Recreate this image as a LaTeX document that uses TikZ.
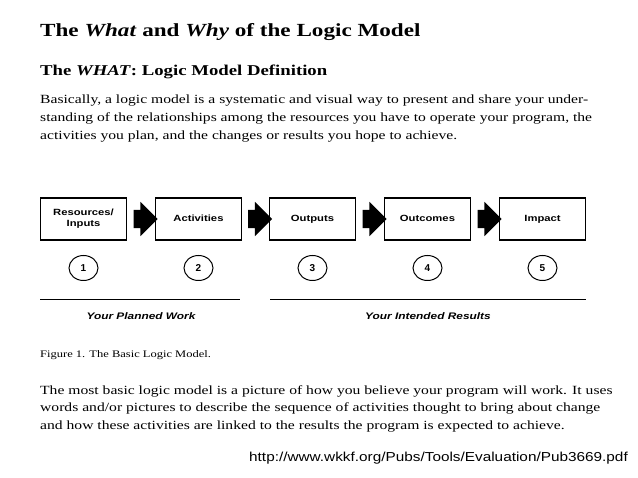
\documentclass[tikz,border=0pt]{standalone}
\usepackage{fontspec}
\usetikzlibrary{shapes.arrows,shapes.geometric}
\setmainfont{Liberation Serif}[FakeStretch=1.25]
\newfontfamily\lsans{Liberation Sans}
\newfontfamily\wsans{Liberation Sans}[FakeStretch=1.25]
\newfontfamily\usans{Liberation Sans}[FakeStretch=1.18]
\begin{document}
\begin{tikzpicture}[x=1pt,y=-1pt,
  stepbox/.style={draw,line width=1.3pt,minimum width=86pt,minimum height=42pt,font=\wsans\bfseries\fontsize{9}{11}\selectfont,align=center},
  one/.style={text height=7pt,text depth=2pt},
  num/.style={draw,ellipse,line width=1pt,minimum width=29pt,minimum height=25pt,inner sep=0pt,font=\lsans\bfseries\fontsize{10}{10}\selectfont},
  bigarrow/.style={fill=black,single arrow,single arrow head extend=8pt,minimum height=24pt,inner xsep=0pt,inner ysep=9pt,text height=0pt,text depth=0pt},
  para/.style={anchor=north west,align=left,inner sep=0pt,font=\fontsize{12.5}{17.8}\selectfont},
  grp/.style={font=\wsans\bfseries\itshape\fontsize{9.5}{10}\selectfont}]
\useasboundingbox (0,0) rectangle (638,478);
\fill[white] (0,0) rectangle (638,478);
\node[anchor=west,inner sep=0pt,font=\fontsize{18.5}{20}\selectfont\bfseries] (t) at (40,32) {The \textit{What} and \textit{Why} of the Logic Model};
\node[anchor=west,inner sep=0pt,font=\fontsize{15}{16}\selectfont\bfseries] (t2) at (40,72) {The \textit{WHAT}: Logic Model Definition};
\node[para] (p1) at (40,95) {Basically, a logic model is a systematic and visual way to present and share your under-\\standing of the relationships among the resources you have to operate your program, the\\activities you plan, and the changes or results you hope to achieve.};
\node[stepbox] (b1) at (83.5,219) {Resources/\\Inputs};
\node[stepbox,one] (b2) at (198.5,219) {Activities};
\node[stepbox,one] (b3) at (312.5,219) {Outputs};
\node[stepbox,one] (b4) at (427.5,219) {Outcomes};
\node[stepbox,one] (b5) at (542.5,219) {Impact};
\foreach \a/\b in {b1/b2,b2/b3,b3/b4,b4/b5}{
  \path (\a.east) -- (\b.west) node[midway,bigarrow] {};}
\foreach \i/\x in {1/83.5,2/198.5,3/312.5,4/427.5,5/542.5}{
  \node[num] (n\i) at (\x,268) {\i};}
\coordinate (l1a) at (40,300); \coordinate (l1b) at (240,300);
\coordinate (l2a) at (270,300); \coordinate (l2b) at (586,300);
\draw[line width=1pt] (l1a) -- (l1b);
\draw[line width=1pt] (l2a) -- (l2b);
\node[grp] (g1) at (141,316) {Your Planned Work};
\node[grp] (g2) at (428,316) {Your Intended Results};
\node[anchor=west,inner sep=0pt,font=\fontsize{10}{10}\selectfont] (cap) at (40,355) {Figure 1. The Basic Logic Model.};
\node[para] (p2) at (40,385) {The most basic logic model is a picture of how you believe your program will work. It uses\\words and/or pictures to describe the sequence of activities thought to bring about change\\and how these activities are linked to the results the program is expected to achieve.};
\node[anchor=east,inner sep=0pt,font=\usans\fontsize{13}{13}\selectfont] (url) at (628,458) {http://www.wkkf.org/Pubs/Tools/Evaluation/Pub3669.pdf};
\end{tikzpicture}
\end{document}
